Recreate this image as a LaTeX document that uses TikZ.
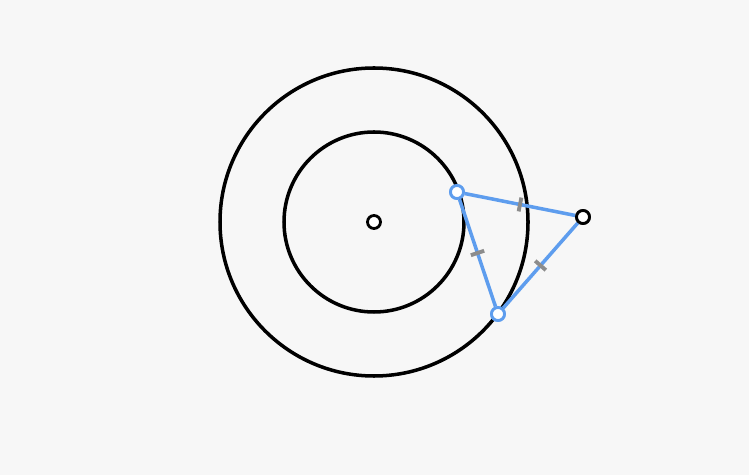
\documentclass[tikz,border=0pt]{standalone}
\usepackage{tikz}
\definecolor{bgcol}{HTML}{F7F7F7}
\definecolor{segblue}{HTML}{5E9DEE}
\definecolor{tickgray}{HTML}{8C8C8C}
\tikzset{
  ring/.style={draw=black,line width=2pt},
  pt/.style={circle,draw=black,fill=white,line width=1.6pt,inner sep=0pt,minimum size=7.4pt},
  bluept/.style={pt,draw=segblue},
  seg/.style={segblue,line width=2pt},
  tickmark/.style={rectangle,fill=tickgray,inner sep=0pt,minimum width=2.2pt,minimum height=8pt,sloped}
}

\begin{document}
\begin{tikzpicture}[x=0.02cm,y=-0.02cm]
    % background, same size as the reference
    \fill[bgcol] (0,0) rectangle (749,475);
    \useasboundingbox (0,0) rectangle (749,475);

    % the two circles round the centre
    \coordinate (o) at (374,222);
    \draw[ring] (o) circle (154);
    \draw[ring] (o) circle (90);

    % points
    \node[pt] (centre) at (o) {};
    \node[bluept] (pa) at (457,192) {};
    \node[bluept] (pb) at (498,314) {};
    \node[pt] (pc) at (583,217) {};

    % equilateral triangle, equal sides marked
    \draw[seg] (pa) -- (pc) node[midway,tickmark] {};
    \draw[seg] (pa) -- (pb) node[midway,tickmark] {};
    \draw[seg] (pb) -- (pc) node[midway,tickmark] {};

    % redraw the points on top
    \node[bluept] at (pa) {};
    \node[bluept] at (pb) {};
    \node[pt] at (pc) {};
\end{tikzpicture}
\end{document}
